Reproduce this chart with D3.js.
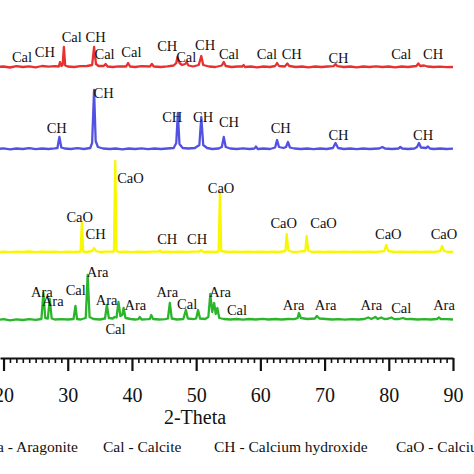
<!DOCTYPE html>
<html><head><meta charset="utf-8">
<script src="https://cdn.jsdelivr.net/npm/d3@7/dist/d3.min.js"></script>
<style>html,body{margin:0;padding:0;background:#fff;}svg{display:block;}</style>
</head><body>
<svg id="c" width="474" height="474"></svg>
<script>
// ---- data: 2-Theta (deg) vs intensity (a.u.) for four stacked patterns ----
const redSeries = [[19,0],[20,5],[21,-5],[22,8],[23,0],[24,6],[25,-4],[26,10],[27,3],[28,8],[28.6,5],[28.8,50],[29.0,10],[29.2,20],[29.4,200],[29.6,15],[30,5],[31,0],[32,8],[33,10],[33.8,20],[34.1,200],[34.4,30],[34.8,10],[35.6,10],[35.9,30],[36.2,5],[37,0],[38,6],[39.1,5],[39.4,40],[39.7,5],[40.5,0],[41.5,8],[42.8,5],[43.1,30],[43.4,5],[44.5,0],[45.5,6],[46.5,15],[46.9,40],[47.1,100],[47.4,40],[47.8,20],[48.3,30],[48.5,50],[48.8,15],[49.5,5],[50.4,20],[50.8,110],[51.1,20],[52,5],[53,0],[54,15],[54.3,50],[54.6,10],[55.5,0],[56.5,5],[57.2,5],[57.4,20],[57.6,0],[58.5,5],[59.5,-3],[60.5,5],[61.5,0],[62.3,10],[62.6,40],[62.9,10],[63.8,5],[64.2,35],[64.5,10],[65.5,0],[66.5,5],[67.5,-3],[68.5,5],[69.5,0],[70.5,5],[71.4,8],[71.7,30],[72,8],[73,0],[74,5],[75,-3],[76,5],[77,0],[78,6],[79,0],[80,5],[81,-3],[82,5],[83,0],[84.3,10],[84.6,35],[84.9,10],[85.5,15],[86,5],[87,0],[88,4],[89,-2],[90,0]];
const blueSeries = [[19,0],[20,6],[21,-3],[22,5],[23,0],[24,8],[25,-2],[26,5],[27,0],[28,6],[28.4,10],[28.7,120],[29.0,15],[29.5,5],[30.5,0],[31.5,8],[32.5,0],[33.5,10],[33.8,60],[34.1,590],[34.35,80],[34.7,20],[35.5,5],[36.5,0],[37.5,5],[38.5,-3],[39.5,5],[40.5,0],[41.5,6],[42.5,-2],[43.5,5],[44.5,0],[45.5,5],[46.5,10],[46.9,60],[47.15,360],[47.4,50],[47.9,10],[48.8,5],[49.8,10],[50.5,40],[50.8,320],[51.1,40],[51.7,10],[52.5,0],[53.5,5],[54.0,20],[54.3,120],[54.6,20],[55.3,5],[56.3,0],[57.3,6],[58.3,0],[59.1,5],[59.3,25],[59.6,0],[60.5,5],[61.5,0],[62.3,15],[62.6,90],[62.9,20],[63.6,10],[64.0,20],[64.3,70],[64.6,15],[65.3,5],[66.3,0],[67.3,5],[68.3,-2],[69.3,5],[70.3,0],[71.3,10],[71.7,60],[72.1,10],[73,0],[74,5],[75,-2],[76,5],[77,0],[78.5,5],[79,20],[79.4,5],[80.5,0],[81.5,5],[81.8,20],[82.1,5],[83,0],[84,5],[84.4,20],[84.7,60],[85.0,15],[85.8,10],[86.1,25],[86.4,5],[87,0],[88,5],[89,0],[90,3]];
const yellowSeries = [[19,0],[20,4],[21,-2],[22,4],[23,0],[24,5],[25,-2],[26,4],[27,0],[28,4],[29,-2],[30,4],[31,0],[32.0,5],[32.2,300],[32.4,5],[33,0],[33.8,10],[34.1,40],[34.4,10],[35,0],[36,4],[37.2,5],[37.4,910],[37.6,10],[38,0],[39,4],[40,-2],[41,4],[42,0],[43,4],[44.2,5],[44.4,15],[44.6,0],[45.5,4],[46.5,0],[47.5,4],[48.5,0],[49.5,4],[50.5,5],[50.8,20],[51.1,0],[52,4],[53,0],[53.5,5],[53.7,600],[53.9,10],[55,0],[56,4],[57,0],[58,4],[59,0],[60,4],[61,0],[62,4],[63,0],[63.9,10],[64.1,180],[64.35,15],[65,0],[66,4],[67.0,10],[67.2,160],[67.45,15],[68,0],[69,4],[70,0],[71,4],[72,0],[73,4],[74,0],[75,4],[76,0],[77,4],[78,0],[79.3,8],[79.6,70],[79.9,10],[81,0],[82,4],[83,0],[84,4],[85,0],[86,4],[87,0],[88.0,8],[88.3,60],[88.6,10],[89.2,0],[90,3]];
const greenSeries = [[19,0],[20,8],[21,-3],[22,6],[23,0],[24,8],[25,2],[25.9,10],[26.2,270],[26.5,20],[26.9,15],[27.2,210],[27.5,15],[28,5],[29,8],[30,5],[30.9,10],[31.2,140],[31.45,10],[32,5],[32.8,20],[33.1,450],[33.4,30],[34,10],[35,5],[35.8,15],[36.1,150],[36.4,20],[37.0,15],[37.3,30],[37.6,25],[37.9,180],[38.2,40],[38.5,50],[38.7,120],[39.0,20],[39.8,10],[40.5,5],[41.0,8],[41.2,30],[41.5,5],[42.5,8],[42.8,10],[43.0,50],[43.3,10],[44.2,5],[45.2,8],[45.6,15],[45.9,170],[46.2,15],[47,5],[48.0,10],[48.4,100],[48.7,15],[49.6,8],[50.0,15],[50.3,100],[50.6,15],[51.4,10],[51.9,30],[52.2,260],[52.5,80],[52.8,170],[53.05,60],[53.3,120],[53.6,20],[54.3,10],[55.3,5],[56.3,10],[57.3,3],[58.3,10],[59.3,5],[60.3,12],[61.3,5],[62.3,10],[63.3,5],[64.3,10],[65.3,8],[65.8,20],[66.0,70],[66.3,20],[67.3,10],[68.5,15],[68.8,40],[69.2,15],[70.2,10],[71.2,5],[72.2,8],[73.2,3],[74.2,8],[75.2,5],[76.2,10],[76.8,25],[77.3,10],[77.9,30],[78.3,10],[78.8,25],[79.3,10],[79.8,12],[80.4,25],[80.9,8],[81.6,10],[82.2,20],[82.7,8],[83.5,10],[84.5,5],[85.5,8],[86.5,5],[87.5,10],[87.8,25],[88.1,10],[89,8],[90,5]];

// peak labels: [text, 2-Theta, intensity]
const redLabels = [["Cal",22.87,50],["CH",26.43,100],["Cal",30.62,250],["CH",34.34,250],["Cal",35.74,80],["Cal",39.92,100],["CH",45.5,160],["Cal",48.45,50],["CH",51.4,170],["Cal",55.12,80],["Cal",61.01,80],["CH",64.88,80],["CH",72.17,40],["Cal",81.94,80],["CH",86.9,80]];
const blueLabels = [["CH",28.29,160],["CH",35.58,510],["CH",46.28,270],["CH",51.09,270],["CH",55.12,220],["CH",63.18,160],["CH",72.17,90],["CH",85.35,90]];
const yellowLabels = [["CaO",31.86,300],["CH",34.34,130],["CaO",39.77,690],["CH",45.5,80],["CH",50.16,80],["CaO",53.88,590],["CaO",63.64,240],["CaO",69.84,240],["CaO",79.92,130],["CaO",88.6,130]];
const greenLabels = [["Ara",25.97,230],["Ara",27.67,140],["Cal",31.24,250],["Ara",34.65,430],["Ara",36.05,150],["Cal",37.44,-140],["Ara",40.54,100],["Ara",45.5,230],["Cal",48.6,110],["Ara",53.72,230],["Cal",56.36,50],["Ara",65.19,100],["Ara",70.16,100],["Ara",77.29,100],["Cal",81.94,70],["Ara",88.6,100]];

const majorTicks = [20,30,40,50,60,70,80,90];
const xTitle = "2-Theta";
const legendItems = ["Ara - Aragonite","Cal - Calcite","CH - Calcium hydroxide","CaO - Calcium oxide"];

// ---- layout ----
const svg = d3.select("#c");
const font = "'Liberation Serif','Times New Roman',serif";
const x = d3.scaleLinear().domain([19.45, 90]).range([0, 453]);
const y = d3.scaleLinear().domain([0, 3300]).range([330, 0]);
const axisY = 358;

const traces = [
  {data: greenSeries, labels: greenLabels, offset: 100, color: "#2bb52b"},
  {data: yellowSeries, labels: yellowLabels, offset: 780, color: "#f7f700"},
  {data: blueSeries, labels: blueLabels, offset: 1810, color: "#5252e2"},
  {data: redSeries, labels: redLabels, offset: 2630, color: "#e8302f"}
];

traces.forEach(t => {
  const line = d3.line().x(d => x(d[0])).y(d => y(d[1] + t.offset));
  svg.append("path").datum(t.data).attr("d", line)
    .attr("fill", "none").attr("stroke", t.color).attr("stroke-width", 2.3)
    .attr("stroke-linejoin", "round");
  svg.append("g").selectAll("text").data(t.labels).join("text")
    .attr("x", d => x(d[1])).attr("y", d => y(d[2] + t.offset))
    .attr("text-anchor", "middle").attr("font-family", font).attr("font-size", 14.5)
    .attr("fill", "#111").text(d => d[0]);
});

// minor ticks
const minor = d3.range(20, 91, 1).filter(v => v % 10 !== 0);
const gMinor = svg.append("g").attr("transform", `translate(0,${axisY})`)
  .call(d3.axisBottom(x).tickValues(minor).tickSize(5).tickSizeOuter(0).tickFormat(""));
gMinor.select(".domain").remove();
gMinor.selectAll("line").attr("stroke", "#111").attr("stroke-width", 1.6);

const gMajor = svg.append("g").attr("transform", `translate(0,${axisY})`)
  .call(d3.axisBottom(x).tickValues(majorTicks).tickSize(13).tickSizeOuter(0).tickPadding(17));
gMajor.select(".domain").attr("stroke", "#111").attr("stroke-width", 2.2);
gMajor.selectAll("line").attr("stroke", "#111").attr("stroke-width", 2.2);
gMajor.selectAll("text").attr("font-family", font).attr("font-size", 20).attr("fill", "#111");

svg.append("text").attr("x", 195).attr("y", 424).attr("text-anchor", "middle")
  .attr("font-family", font).attr("font-size", 20).attr("fill", "#111").text(xTitle);

const legendX = [[78, "end"], [103, "start"], [214, "start"], [396, "start"]];
svg.append("g").selectAll("text").data(legendItems).join("text")
  .attr("x", (d, i) => legendX[i][0]).attr("y", 452)
  .attr("text-anchor", (d, i) => legendX[i][1])
  .attr("font-family", font).attr("font-size", 15.5).attr("fill", "#111").text(d => d);
</script>
</body></html>
